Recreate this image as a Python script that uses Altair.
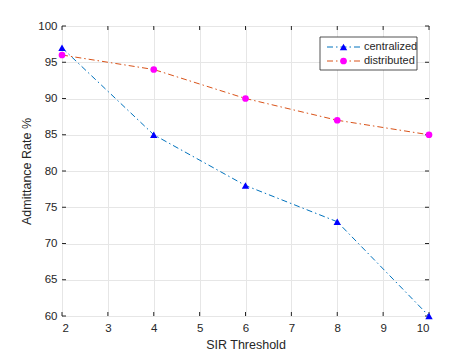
import altair as alt
import pandas as pd

sir = [2, 4, 6, 8, 10]
centralized = [97, 85, 78, 73, 60]
distributed = [96, 94, 90, 87, 85]
series_names = ["centralized", "distributed"]
x_ticks = [2, 3, 4, 5, 6, 7, 8, 9, 10]
y_ticks = [60, 65, 70, 75, 80, 85, 90, 95, 100]

df = pd.DataFrame({
    "sir": sir * 2,
    "rate": centralized + distributed,
    "series": [series_names[0]] * len(sir) + [series_names[1]] * len(sir),
})

W, H = 367, 290
FONT = "Liberation Sans"
TXT = "#262626"
line_colors = {"centralized": "#0072BD", "distributed": "#D95319"}
marker_colors = {"centralized": "#0000FF", "distributed": "#FF00FF"}
marker_shapes = {"centralized": "triangle-up", "distributed": "circle"}
DASH = [6, 3, 1.5, 3]

xs = alt.Scale(domain=[2, 10], nice=False)
ys = alt.Scale(domain=[60, 100], nice=False)

x_axis = alt.Axis(values=x_ticks, tickSize=0, labelPadding=6, grid=True,
                  gridColor="#e6e6e6", gridOpacity=1, domain=False,
                  labelFont=FONT, labelFontSize=11.5, labelColor=TXT,
                  title="SIR Threshold", titleFont=FONT, titleFontSize=12.5,
                  titleFontWeight="normal", titleColor=TXT, titlePadding=5)
y_axis = alt.Axis(values=y_ticks, tickSize=0, labelPadding=5, grid=True,
                  gridColor="#e6e6e6", gridOpacity=1, domain=False,
                  labelFont=FONT, labelFontSize=11.5, labelColor=TXT,
                  title="Admittance Rate %", titleFont=FONT, titleFontSize=12.5,
                  titleFontWeight="normal", titleColor=TXT, titlePadding=4)


def X(field):
    return alt.X(field, scale=xs, axis=x_axis)


def Y(field):
    return alt.Y(field, scale=ys, axis=y_axis)


base = alt.Chart(df)
layers = []

# inward ticks
xt = pd.DataFrame({"v": x_ticks})
yt = pd.DataFrame({"v": y_ticks})
for y0, y1 in [(H, H - 4), (0, 4)]:
    layers.append(alt.Chart(xt).mark_rule(color=TXT, strokeWidth=1).encode(
        x=X("v:Q"), y=alt.value(y0), y2=alt.value(y1)))
for x0, x1 in [(0, 4), (W, W - 4)]:
    layers.append(alt.Chart(yt).mark_rule(color=TXT, strokeWidth=1).encode(
        y=Y("v:Q"), x=alt.value(x0), x2=alt.value(x1)))

for name in series_names:
    sub = base.transform_filter(alt.datum.series == name)
    layers.append(sub.mark_line(color=line_colors[name], strokeWidth=1,
                                strokeDash=DASH).encode(
        x=X("sir:Q"), y=Y("rate:Q")))
    layers.append(sub.mark_point(shape=marker_shapes[name], filled=True,
                                 color=marker_colors[name], opacity=1,
                                 size=55 if name == "centralized" else 45).encode(
        x=X("sir:Q"), y=Y("rate:Q")))

# legend
leg_df = pd.DataFrame({"a": [0]})
leg = alt.Chart(leg_df)
layers.append(leg.mark_rect(fill="white", stroke=TXT, strokeWidth=0.8).encode(
    x=alt.value(258), x2=alt.value(355), y=alt.value(11), y2=alt.value(44)))
for i, name in enumerate(series_names):
    yy = 21 + i * 14
    layers.append(leg.mark_rule(color=line_colors[name], strokeWidth=1,
                                strokeDash=DASH).encode(
        x=alt.value(265), x2=alt.value(298), y=alt.value(yy)))
    layers.append(leg.mark_point(shape=marker_shapes[name], filled=True,
                                 color=marker_colors[name], opacity=1,
                                 size=55 if name == "centralized" else 45).encode(
        x=alt.value(281.5), y=alt.value(yy)))
    layers.append(leg.mark_text(align="left", baseline="middle", font=FONT,
                                fontSize=11, color=TXT, text=name).encode(
        x=alt.value(302), y=alt.value(yy)))

chart = alt.layer(*layers).properties(
    width=W, height=H,
    autosize=alt.AutoSizeParams(type="none"),
    padding={"left": 54, "top": 18, "right": 30, "bottom": 35},
    background="white",
).configure_view(stroke=TXT, strokeWidth=1)

chart.save("out.html", embed_options={"renderer": "svg", "actions": False})
